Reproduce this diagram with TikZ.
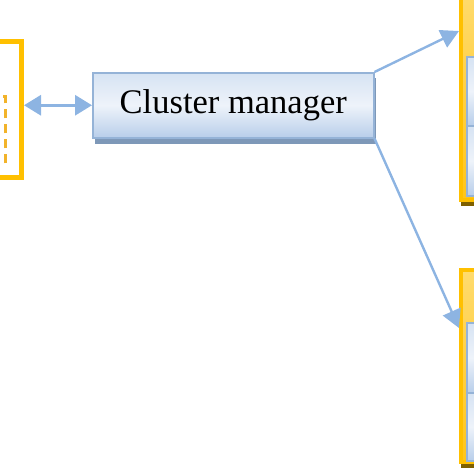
\documentclass[tikz,border=0pt]{standalone}
\usepackage{fontspec}
\setmainfont{Liberation Serif}
\usetikzlibrary{arrows.meta,positioning}
\definecolor{ybord}{HTML}{FFC000}
\definecolor{ydash}{HTML}{F2B32A}
\definecolor{ytop}{HTML}{FFDB6E}
\definecolor{ybot}{HTML}{FFC519}
\definecolor{yshadow}{HTML}{7F6000}
\definecolor{bbord}{HTML}{95B3D7}
\definecolor{btop}{HTML}{D6E3F3}
\definecolor{bmid}{HTML}{EEF3FA}
\definecolor{bbot}{HTML}{B8CEEA}
\definecolor{bshadow}{HTML}{7E98B8}
\definecolor{arr}{HTML}{8DB4E2}
\tikzset{
  ybox/.style={draw=ybord, line width=4pt, rectangle, inner sep=0pt, top color=ytop, bottom color=ybot},
  bbox/.style={draw=bbord, line width=1.5pt, rectangle, inner sep=0pt, top color=btop, bottom color=bbot, middle color=bmid},
  conn/.style={draw=arr, line width=2.4pt, -{Triangle[length=18pt,width=19pt]}},
  dconn/.style={draw=arr, line width=3pt, {Triangle[length=17pt,width=20pt]}-{Triangle[length=17pt,width=20pt]}},
}
\begin{document}
\begin{tikzpicture}[x=1pt,y=-1pt]
\useasboundingbox (0,0) rectangle (474,474);
% left box
\node[draw=ybord, line width=5pt, fill=white, rectangle, inner sep=0pt,
      minimum width=40pt, minimum height=136pt, anchor=north west] (left) at (-21,39) {};
\node[draw=ydash, line width=2.8pt, dashed, dash pattern=on 9pt off 6pt, rectangle, inner sep=0pt,
      minimum width=14pt, minimum height=68pt, anchor=north west] (inner) at (-10,95) {};
% cluster manager
\fill[bshadow] (95,78) rectangle (375.5,144);
\node[bbox, minimum width=281pt, minimum height=65pt, anchor=north west] (cm) at (92,72)
  {\fontsize{34.5}{40}\selectfont Cluster manager};
% top right box
\fill[yshadow] (461,-10) rectangle (480,206);
\node[ybox, minimum width=40pt, minimum height=210pt, anchor=north west] (rt) at (459,-12) {};
\node[bbox, minimum width=20pt, minimum height=69pt, anchor=north west] (rt1) at (466,56) {};
\node[bbox, minimum width=20pt, minimum height=70pt, anchor=north west] (rt2) at (466,125) {};
% bottom right box
\fill[yshadow] (461,272) rectangle (480,468);
\node[ybox, minimum width=40pt, minimum height=192pt, anchor=north west] (rb) at (459,268) {};
\node[bbox, minimum width=20pt, minimum height=70pt, anchor=north west] (rb1) at (466,322) {};
\node[bbox, minimum width=20pt, minimum height=68pt, anchor=north west] (rb2) at (466,392) {};
% connectors
\coordinate (t1) at (rt.west |- 0,31);
\coordinate (t2) at (rb.west |- 0,328);
\draw[dconn] (left.east |- cm.west) -- (cm.west);
\draw[conn] (cm.north east) -- (t1);
\draw[conn] (cm.south east) -- (t2);
\end{tikzpicture}
\end{document}
